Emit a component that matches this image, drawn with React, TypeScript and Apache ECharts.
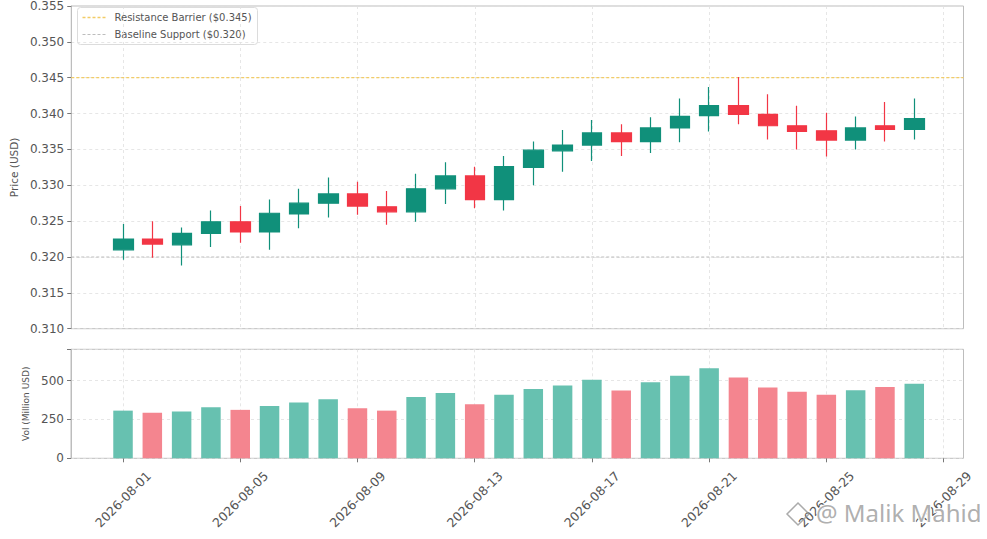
import React, { useEffect, useRef } from "react";
import * as echarts from "echarts";

const dayLabels = ["2026-08-01","2026-08-02","2026-08-03","2026-08-04","2026-08-05","2026-08-06","2026-08-07","2026-08-08","2026-08-09","2026-08-10","2026-08-11","2026-08-12","2026-08-13","2026-08-14","2026-08-15","2026-08-16","2026-08-17","2026-08-18","2026-08-19","2026-08-20","2026-08-21","2026-08-22","2026-08-23","2026-08-24","2026-08-25","2026-08-26","2026-08-27","2026-08-28"];
const opens  = [0.3210,0.3225,0.3217,0.3233,0.3249,0.3235,0.3260,0.3275,0.3288,0.3270,0.3263,0.3295,0.3313,0.3280,0.3325,0.3348,0.3356,0.3373,0.3361,0.3380,0.3397,0.3411,0.3399,0.3383,0.3376,0.3363,0.3383,0.3378];
const closes = [0.3225,0.3218,0.3233,0.3249,0.3235,0.3261,0.3275,0.3288,0.3271,0.3263,0.3295,0.3313,0.3280,0.3326,0.3349,0.3356,0.3373,0.3361,0.3380,0.3396,0.3411,0.3399,0.3383,0.3375,0.3363,0.3380,0.3378,0.3393];
const lows   = [0.3196,0.3199,0.3188,0.3214,0.3220,0.3210,0.3240,0.3255,0.3259,0.3245,0.3249,0.3274,0.3268,0.3265,0.3300,0.3319,0.3334,0.3341,0.3345,0.3360,0.3375,0.3385,0.3364,0.3350,0.3340,0.3350,0.3361,0.3364];
const highs  = [0.3246,0.3250,0.3241,0.3265,0.3271,0.3280,0.3295,0.3311,0.3305,0.3292,0.3316,0.3332,0.3326,0.3341,0.3361,0.3377,0.3391,0.3385,0.3395,0.3421,0.3437,0.3451,0.3427,0.3411,0.3401,0.3396,0.3416,0.3421];
const volumes = [307,294,301,329,312,337,359,381,322,307,394,420,348,409,446,469,506,437,489,532,580,521,456,428,409,439,459,480];
const tickDays = [0,4,8,12,16,20,24,28];
const tickLabels = ["2026-08-01","2026-08-05","2026-08-09","2026-08-13","2026-08-17","2026-08-21","2026-08-25","2026-08-29"];
const resistance = 0.345;
const support = 0.320;
const legendNames = ["Resistance Barrier ($0.345)", "Baseline Support ($0.320)"];

const UP = "#10907a";
const DOWN = "#f23645";
const UP_V = "#67c1b0";
const DOWN_V = "#f4858f";
const RES_C = "#f2cc66";
const SUP_C = "#bdbdbd";
const FONT = "DejaVu Sans";

export default function App() {
  const ref = useRef<HTMLDivElement>(null);
  useEffect(() => {
    document.body.style.margin = "0";
    const chart = echarts.init(ref.current!, null, { renderer: "svg" });
    const xMin = -1.775;
    const xMax = 28.68;
    const candles = dayLabels.map((_, i) => [i, opens[i], closes[i], lows[i], highs[i]]);
    const vols = volumes.map((v, i) => ({
      value: [i, v],
      itemStyle: { color: closes[i] >= opens[i] ? UP_V : DOWN_V },
    }));
    const gridLine = { show: true, lineStyle: { color: "#e0e0e0", type: [3, 3] as any, width: 0.8 } };
    const xBase = {
      type: "value" as const,
      min: xMin,
      max: xMax,
      axisLine: { show: false },
      splitLine: gridLine,
    };
    const option: any = {
      animation: false,
      backgroundColor: "#ffffff",
      textStyle: { fontFamily: FONT },
      grid: [
        { left: 71, right: 23.5, top: 2.8, height: 325.9, show: true, borderColor: "#bdbdbd", borderWidth: 1, backgroundColor: "transparent" },
        { left: 71, right: 23.5, top: 349.3, height: 109, show: true, borderColor: "#bdbdbd", borderWidth: 1, backgroundColor: "transparent" },
      ],
      xAxis: [
        {
          ...xBase,
          gridIndex: 0,
          axisTick: { show: false, customValues: tickDays },
          axisLabel: { show: false, customValues: tickDays },
        },
        {
          ...xBase,
          gridIndex: 1,
          axisTick: { show: true, customValues: tickDays, length: 4, lineStyle: { color: "#777" } },
          axisLabel: {
            show: true,
            customValues: tickDays,
            rotate: 45,
            align: "center",
            verticalAlign: "middle",
            fontSize: 12.5,
            color: "#555",
            fontFamily: FONT,
            margin: 41,
            formatter: (v: number) => {
              const k = tickDays.indexOf(Math.round(v));
              return k >= 0 ? tickLabels[k] : "";
            },
          },
        },
      ],
      yAxis: [
        {
          type: "value",
          gridIndex: 0,
          min: 0.310,
          max: 0.355,
          interval: 0.005,
          name: "Price (USD)",
          nameLocation: "middle",
          nameGap: 49,
          nameTextStyle: { fontSize: 10.5, color: "#555", fontFamily: FONT },
          axisLine: { show: true, onZero: false, lineStyle: { color: "#bdbdbd" } },
          axisTick: { show: true, length: 4, lineStyle: { color: "#777" } },
          axisLabel: {
            fontSize: 12,
            color: "#555",
            fontFamily: FONT,
            margin: 7,
            formatter: (v: number) => v.toFixed(3),
          },
          splitLine: gridLine,
        },
        {
          type: "value",
          gridIndex: 1,
          min: 0,
          max: 702,
          interval: 250,
          name: "Vol (Million USD)",
          nameLocation: "middle",
          nameGap: 39,
          nameTextStyle: { fontSize: 9, color: "#555", fontFamily: FONT },
          axisLine: { show: true, onZero: false, lineStyle: { color: "#bdbdbd" } },
          axisTick: { show: true, length: 4, lineStyle: { color: "#777" } },
          axisLabel: {
            fontSize: 12,
            color: "#555",
            fontFamily: FONT,
            margin: 7,
            formatter: (v: number) => (v % 250 === 0 ? String(v) : ""),
          },
          splitLine: gridLine,
        },
      ],
      series: [
        {
          name: legendNames[0],
          type: "line",
          xAxisIndex: 0,
          yAxisIndex: 0,
          symbol: "none",
          data: [[xMin, resistance], [xMax, resistance]],
          lineStyle: { color: RES_C, width: 1.3, type: [3, 2] },
          z: 2,
        },
        {
          name: legendNames[1],
          type: "line",
          xAxisIndex: 0,
          yAxisIndex: 0,
          symbol: "none",
          data: [[xMin, support], [xMax, support]],
          lineStyle: { color: SUP_C, width: 1.2, type: [3, 2] },
          z: 2,
        },
        {
          name: "Price",
          type: "candlestick",
          xAxisIndex: 0,
          yAxisIndex: 0,
          barWidth: 20,
          encode: { x: 0, y: [1, 2, 3, 4] },
          data: candles,
          itemStyle: {
            color: UP,
            color0: DOWN,
            borderColor: UP,
            borderColor0: DOWN,
            borderWidth: 1.2,
          },
          z: 3,
        },
        {
          name: "Volume",
          type: "bar",
          xAxisIndex: 1,
          yAxisIndex: 1,
          barWidth: 19.5,
          data: vols,
          z: 3,
        },
      ],
      graphic: [
        {
          type: "group",
          left: 77,
          top: 7,
          z: 100,
          children: [
            { type: "rect", shape: { x: 0, y: 0, width: 180, height: 37, r: 3 }, style: { fill: "rgba(255,255,255,0.92)", stroke: "#dcdcdc", lineWidth: 1 } },
            { type: "line", shape: { x1: 5, y1: 10, x2: 29, y2: 10 }, style: { stroke: RES_C, lineWidth: 1.3, lineDash: [3, 2] } },
            { type: "text", x: 37, y: 10, style: { text: legendNames[0], fontSize: 10, fontFamily: FONT, fill: "#555", verticalAlign: "middle" } },
            { type: "line", shape: { x1: 5, y1: 27, x2: 29, y2: 27 }, style: { stroke: SUP_C, lineWidth: 1.2, lineDash: [3, 2] } },
            { type: "text", x: 37, y: 27, style: { text: legendNames[1], fontSize: 10, fontFamily: FONT, fill: "#555", verticalAlign: "middle" } },
          ],
        },
        {
          type: "polygon",
          z: 100,
          shape: { points: [[798, 503], [809, 514], [798, 525], [787, 514]] },
          style: { fill: "none", stroke: "rgba(150,150,150,0.8)", lineWidth: 1.5 },
        },
        {
          type: "text",
          left: 815,
          top: 499,
          z: 100,
          style: {
            text: "@ Malik Mahid",
            fontSize: 24,
            fontFamily: "Noto Sans",
            fill: "rgba(165,165,165,0.9)",
            stroke: "#ffffff",
            lineWidth: 2,
          },
        },
      ],
    };
    chart.setOption(option);
    return () => chart.dispose();
  }, []);
  return <div ref={ref} style={{ width: 987, height: 539 }} />;
}
